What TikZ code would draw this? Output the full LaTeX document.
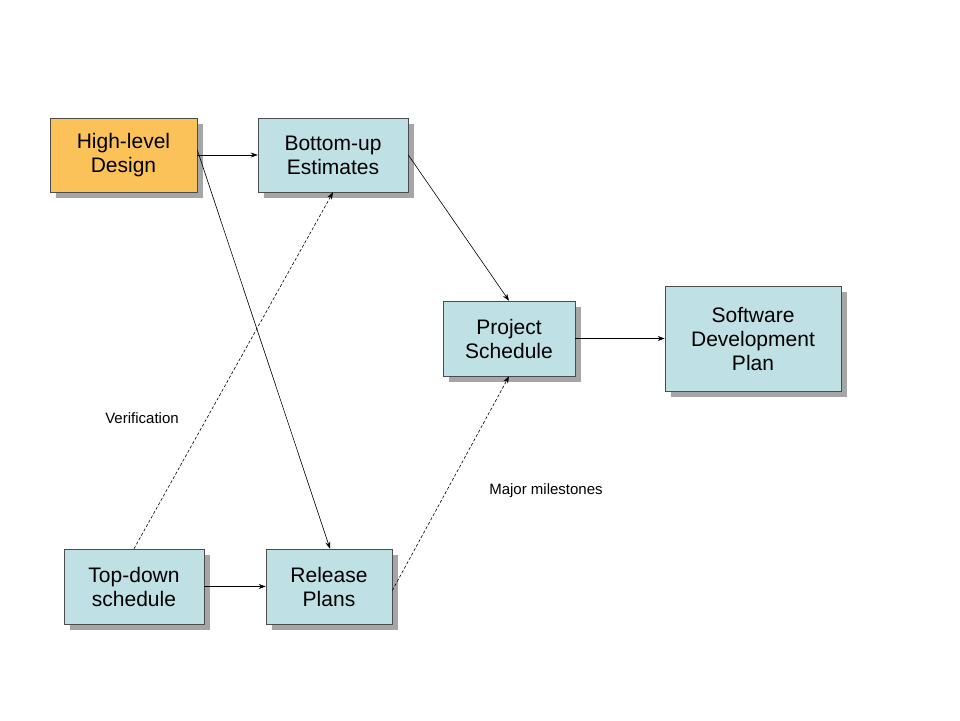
\documentclass[tikz,border=0pt]{standalone}
\usepackage{fontspec}
\setmainfont{Liberation Sans}
\usetikzlibrary{arrows.meta,shadows}
\definecolor{boxblue}{HTML}{BFE0E4}
\definecolor{boxorange}{HTML}{FBC25A}
\begin{document}
\begin{tikzpicture}[x=1pt,y=-1pt,
  box/.style={draw=black!70,line width=0.6pt,fill=boxblue,align=center,font=\fontsize{21}{24}\selectfont,
    inner sep=0pt,drop shadow={shadow xshift=6pt,shadow yshift=-6pt,fill=black!35,opacity=1}},
  conn/.style={-{Stealth[length=7pt,width=5pt]},line width=0.6pt},
  dconn/.style={conn,dashed,dash pattern=on 3pt off 2pt},
  lbl/.style={font=\fontsize{15}{18}\selectfont}]
\useasboundingbox[fill=white] (0,0) rectangle (960,720);
\node[box,fill=boxorange,minimum width=147pt,minimum height=74pt] (hld) at (123.5,155) {High-level\\Design};
\node[box,minimum width=150pt,minimum height=74pt] (bu) at (333,155) {Bottom-up\\Estimates};
\node[box,minimum width=132pt,minimum height=75pt] (ps) at (509,338.5) {Project\\Schedule};
\node[box,minimum width=176pt,minimum height=105pt] (sdp) at (753,338.5) {Software\\Development\\Plan};
\node[box,minimum width=140pt,minimum height=75pt] (td) at (134,586.5) {Top-down\\schedule};
\node[box,minimum width=126pt,minimum height=75pt] (rp) at (329,586.5) {Release\\Plans};
\draw[conn] (hld.east) -- (bu.west);
\draw[conn] ([yshift=5pt]hld.east) -- ([xshift=1pt]rp.north);
\draw[conn] (bu.east) -- (ps.north);
\draw[conn] (ps.east) -- (sdp.west |- ps.east);
\draw[conn] (td.east) -- (rp.west);
\draw[dconn] (td.north) -- (bu.south);
\draw[dconn] ([yshift=-4pt]rp.east) -- (ps.south);
\node[lbl] (ver) at (142,418) {Verification};
\node[lbl] (mm) at (546,491) {Major milestones};
\end{tikzpicture}
\end{document}
